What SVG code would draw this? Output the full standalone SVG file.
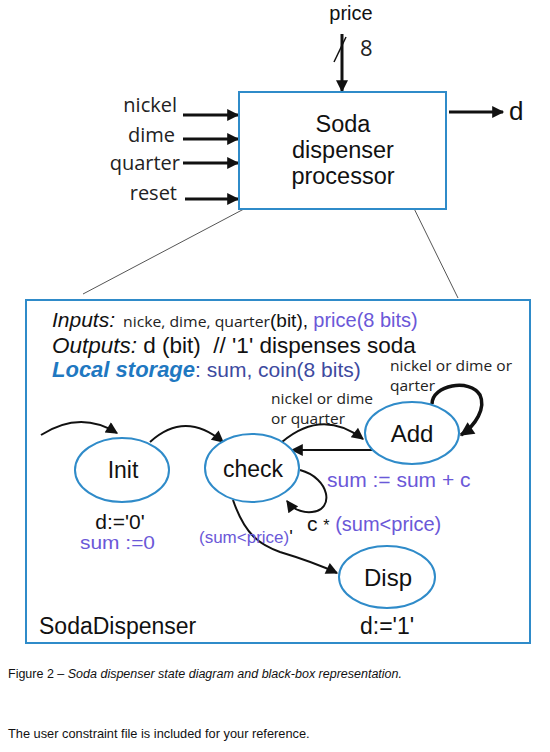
<svg xmlns="http://www.w3.org/2000/svg" width="550" height="752" viewBox="0 0 550 752">
<defs>
<style>
.t{font-family:"Liberation Sans",Arial,sans-serif;fill:#111}
.c{font-family:"Open Sans","Liberation Sans",sans-serif;fill:#222}
.p{fill:#6b58d8}
.box{fill:#fff;stroke:#2f8bc9;stroke-width:2}
.st{fill:#fff;stroke:#2f8bc9;stroke-width:2}
.w{fill:none;stroke:#111;stroke-width:3}
.a{fill:none;stroke:#111;stroke-width:2}
.thin{fill:none;stroke:#555;stroke-width:1}
</style>
<marker id="ah" viewBox="0 0 10 10" refX="9" refY="5" markerWidth="5" markerHeight="4" orient="auto" markerUnits="strokeWidth"><path d="M0,0 L10,5 L0,10 z" fill="#111"/></marker>
<marker id="ah2" viewBox="0 0 10 10" refX="9" refY="5" markerWidth="7" markerHeight="6" orient="auto" markerUnits="strokeWidth"><path d="M0,0 L10,5 L0,10 z" fill="#111"/></marker>
</defs>
<rect width="550" height="752" fill="#fff"/>

<g id="connectors">
<line class="w" x1="342" y1="34" x2="342" y2="91" marker-end="url(#ah)"/>
<line x1="334" y1="62" x2="346" y2="37" stroke="#111" stroke-width="1.5"/>
<line class="w" x1="183" y1="115" x2="238" y2="115" marker-end="url(#ah)"/>
<line class="w" x1="183" y1="139" x2="238" y2="139" marker-end="url(#ah)"/>
<line class="w" x1="183" y1="163" x2="238" y2="163" marker-end="url(#ah)"/>
<line class="w" x1="185" y1="199" x2="238" y2="199" marker-end="url(#ah)"/>
<line class="w" x1="449" y1="112" x2="503" y2="112" marker-end="url(#ah)"/>
<line class="thin" x1="278" y1="191" x2="83" y2="294"/>
<line class="thin" x1="402" y1="184" x2="458" y2="298"/>
</g>

<g id="blackbox">
<rect class="box" x="239" y="92" width="207" height="117"/>
<text class="t" x="343" y="132" font-size="23.5" text-anchor="middle" fill="#222">Soda</text>
<text class="t" x="343" y="158" font-size="23.5" text-anchor="middle">dispenser</text>
<text class="t" x="343" y="184" font-size="23.5" text-anchor="middle">processor</text>
</g>
<g id="port-labels">
<text class="t" x="351" y="20" font-size="20" text-anchor="middle" fill="#222">price</text>
<text class="c" x="360" y="56" font-size="22">8</text>
<text class="c" x="177" y="112" font-size="20" text-anchor="end">nickel</text>
<text class="c" x="175" y="142" font-size="20" text-anchor="end">dime</text>
<text class="c" x="180" y="170" font-size="20" text-anchor="end">quarter</text>
<text class="c" x="177" y="200" font-size="20" text-anchor="end">reset</text>
<text class="t" x="509" y="120" font-size="26">d</text>
</g>

<g id="statemachine">
<rect class="box" x="26" y="300" width="504" height="343"/>
<text class="t" x="52" y="327" font-size="21"><tspan font-style="italic">Inputs:</tspan></text>
<text class="c" x="123" y="327" font-size="14" textLength="147" lengthAdjust="spacingAndGlyphs">nicke, dime, quarter</text>
<text class="t" x="270" y="327" font-size="19">(bit), <tspan class="p" font-size="20">price(8 bits)</tspan></text>
<text class="t" x="52" y="353" font-size="22.5" xml:space="preserve"><tspan font-style="italic">Outputs:</tspan> d (bit)  // '1' dispenses soda</text>
<text class="t" x="52" y="377" font-size="22"><tspan font-style="italic" font-weight="bold" fill="#1f78c1">Local storage</tspan><tspan font-size="21" fill="#3d4aa0">: sum, coin(8 bits)</tspan></text>
<text class="c" x="390" y="371" font-size="14" textLength="122" lengthAdjust="spacingAndGlyphs">nickel or dime or</text>
<text class="c" x="390" y="391" font-size="14" textLength="45" lengthAdjust="spacingAndGlyphs">qarter</text>
<text class="c" x="271" y="404" font-size="14" textLength="102" lengthAdjust="spacingAndGlyphs">nickel or dime</text>
<text class="c" x="271" y="424" font-size="14" textLength="74" lengthAdjust="spacingAndGlyphs">or quarter</text>
<text class="t" x="39" y="634" font-size="23">SodaDispenser</text>
</g>

<g id="transitions">
<path class="a" d="M41,435 Q80,410 117,433" marker-end="url(#ah2)"/>
<path class="a" d="M150,442 Q185,410 223,442" marker-end="url(#ah2)"/>
<path class="a" d="M282,442 Q322,408 363,439" marker-end="url(#ah2)"/>
<line class="a" x1="373" y1="450" x2="292" y2="450" marker-end="url(#ah2)"/>
<path class="a" d="M300,470 C330,478 335,510 312,512 C300,513 292,508 287,501" marker-end="url(#ah2)"/>
<path class="a" d="M233,500 C245,535 260,545 280,552 C300,558 320,565 337,573" marker-end="url(#ah2)"/>
<path fill="none" stroke="#111" stroke-width="3.5" d="M432,404 C432,385 470,378 480,395 C486,408 476,425 461,435" marker-end="url(#ah)"/>
</g>

<g id="state-init">
<ellipse class="st" cx="122" cy="470" rx="47" ry="32"/>
<text class="t" x="123" y="478" font-size="23" text-anchor="middle">Init</text>
<text class="t" x="120" y="529" font-size="21" text-anchor="middle">d:='0'</text>
<text class="t p" x="80" y="549" font-size="19" textLength="75" lengthAdjust="spacingAndGlyphs">sum :=0</text>
</g>
<g id="state-check">
<ellipse class="st" cx="252" cy="468" rx="47" ry="34"/>
<text class="t" x="253" y="477" font-size="23" text-anchor="middle">check</text>
</g>
<g id="state-add">
<ellipse class="st" cx="412" cy="433" rx="47" ry="31"/>
<text class="t" x="412" y="442" font-size="24" text-anchor="middle">Add</text>
</g>
<g id="state-disp">
<ellipse class="st" cx="387" cy="577" rx="48" ry="31"/>
<text class="t" x="388" y="586" font-size="24" text-anchor="middle">Disp</text>
<text class="t" x="360" y="634" font-size="23">d:='1'</text>
</g>
<g id="transition-labels">
<text class="t p" x="327" y="487" font-size="21">sum := sum + c</text>
<text class="t" x="307" y="531" font-size="21">c <tspan font-size="16">*</tspan><tspan class="p" font-size="20"> (sum&lt;price)</tspan></text>
<text class="t" x="199" y="543" font-size="17"><tspan class="p">(sum&lt;price)</tspan><tspan font-size="19">'</tspan></text>
</g>

<g id="caption">
<text class="t" x="8" y="678" font-size="12.5" fill="#111">Figure 2 – <tspan font-style="italic">Soda dispenser state diagram and black-box representation.</tspan></text>
<text class="t" x="8" y="738" font-size="12.8" fill="#111">The user constraint file is included for your reference.</text>
</g>
</svg>
